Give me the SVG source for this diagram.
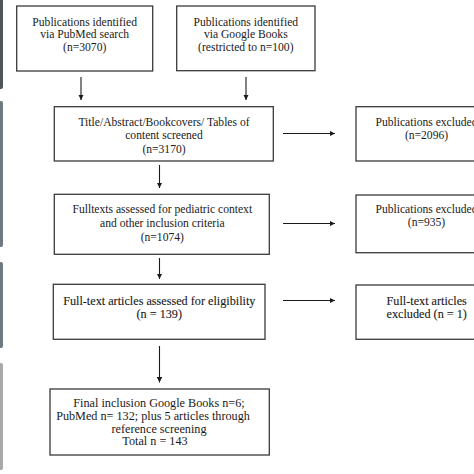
<svg xmlns="http://www.w3.org/2000/svg" width="474" height="474" viewBox="0 0 474 474">
<style>
.box{fill:#fff;stroke:#3a3a3a;stroke-width:1.3}
.t{font-family:"Liberation Serif","Times New Roman",serif;font-size:11.6px;fill:#1a1a1a;text-anchor:middle}
.f{font-size:12.2px}
.c{font-family:"Liberation Serif","Times New Roman",serif;font-size:12.2px;fill:#1a1a1a;text-anchor:middle;stroke:#1a1a1a;stroke-width:0.12}
.ln{stroke:#1a1a1a;stroke-width:1.1;fill:none}
.bar{stroke:none}
</style>
<defs>
<marker id="ah" viewBox="0 0 10 10" refX="10" refY="5" markerWidth="5.5" markerHeight="5.5" markerUnits="userSpaceOnUse" orient="auto">
<path d="M0,0 L10,5 L0,10 z" fill="#1a1a1a"/>
</marker>
</defs>
<rect width="474" height="474" fill="#fff"/>
<g id="sidebars">
<rect class="bar" x="-3" y="-3" width="6" height="92" rx="2" fill="#4f5558"/>
<rect class="bar" x="-3" y="101" width="6" height="146" rx="2" fill="#6f7a80"/>
<rect class="bar" x="-3" y="262" width="6" height="86" rx="2" fill="#6f7a80"/>
<rect class="bar" x="-3" y="363" width="6" height="107" rx="2" fill="#a9a9a9"/>
</g>
<g id="connectors">
<line class="ln" x1="81" y1="77" x2="81" y2="100" marker-end="url(#ah)"/>
<line class="ln" x1="246" y1="77" x2="246" y2="100" marker-end="url(#ah)"/>
<line class="ln" x1="159.5" y1="165" x2="159.5" y2="188" marker-end="url(#ah)"/>
<line class="ln" x1="159.5" y1="258" x2="159.5" y2="279" marker-end="url(#ah)"/>
<line class="ln" x1="159.5" y1="346" x2="159.5" y2="382.5" marker-end="url(#ah)"/>
<line class="ln" x1="283" y1="133.5" x2="335" y2="133.5" marker-end="url(#ah)"/>
<line class="ln" x1="283" y1="223.5" x2="335" y2="223.5" marker-end="url(#ah)"/>
<line class="ln" x1="283" y1="300.5" x2="335" y2="300.5" marker-end="url(#ah)"/>
</g>
<g id="pubmed">
<rect class="box" x="16.7" y="6" width="136" height="65"/>
<text class="t" x="84.7" y="25.8">Publications identified</text>
<text class="t" x="84.7" y="38.4">via PubMed search</text>
<text class="t" x="84.7" y="50.8">(n=3070)</text>
</g>
<g id="google">
<rect class="box" x="176.7" y="6" width="138.3" height="64.7"/>
<text class="t" x="245.8" y="25.8">Publications identified</text>
<text class="t" x="245.8" y="38.4">via Google Books</text>
<text class="t" x="245.8" y="50.8">(restricted to n=100)</text>
</g>
<g id="screened">
<rect class="box" x="54.3" y="106.7" width="219" height="54.3"/>
<text class="t" x="164" y="126.3">Title/Abstract/Bookcovers/ Tables of</text>
<text class="t" x="164" y="139">content screened</text>
<text class="t" x="164" y="153">(n=3170)</text>
</g>
<g id="excluded1">
<rect class="box" x="356" y="106.7" width="130" height="54.3"/>
<text class="t" x="426.5" y="126.3">Publications excluded</text>
<text class="t" x="426.5" y="139">(n=2096)</text>
</g>
<g id="fulltexts">
<rect class="box" x="54.3" y="194.3" width="215" height="60"/>
<text class="t" x="162.3" y="213">Fulltexts assessed for pediatric context</text>
<text class="t" x="162.3" y="227.3">and other inclusion criteria</text>
<text class="t" x="162.3" y="240.7">(n=1074)</text>
</g>
<g id="excluded2">
<rect class="box" x="356" y="195" width="130" height="57.7"/>
<text class="t" x="426.5" y="213">Publications excluded</text>
<text class="t" x="426.5" y="225.7">(n=935)</text>
</g>
<g id="eligibility">
<rect class="box" x="53.3" y="284.3" width="211.7" height="55"/>
<text class="c" x="159.3" y="305">Full-text articles assessed for eligibility</text>
<text class="c" x="159.3" y="318">(n = 139)</text>
</g>
<g id="excluded3">
<rect class="box" x="356" y="285" width="130" height="54.3"/>
<text class="c" x="426.7" y="305.3">Full-text articles</text>
<text class="c" x="426.7" y="318">excluded  (n = 1)</text>
</g>
<g id="final">
<rect class="box" x="50" y="389" width="219.3" height="66"/>
<text class="t f" x="159" y="406.5">Final inclusion Google Books n=6;</text>
<text class="t f" x="153" y="419.5">PubMed n= 132; plus 5 articles through</text>
<text class="t f" x="159" y="432.5">reference screening</text>
<text class="t f" x="155" y="445">Total n = 143</text>
</g>
</svg>
